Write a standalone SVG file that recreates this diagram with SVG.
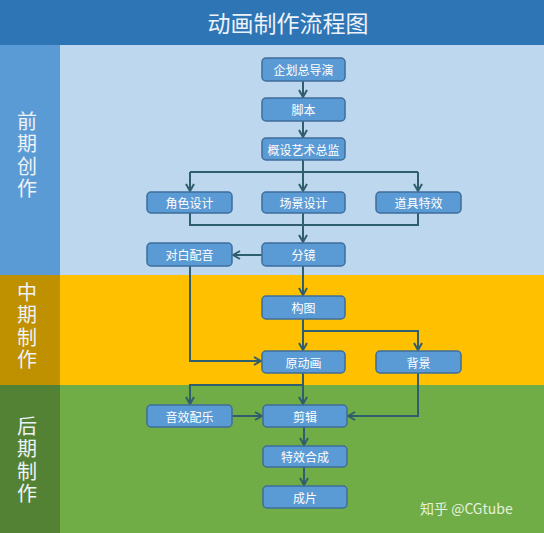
<svg xmlns="http://www.w3.org/2000/svg" width="544" height="533" viewBox="0 0 544 533">
<defs>
<style>
.node rect{fill:#5B9BD5;stroke:#3E6E99;stroke-width:1.5}
.node text{fill:#fff;font-family:"Noto Sans CJK SC","Noto Sans",sans-serif;font-size:12px;text-anchor:middle;dominant-baseline:central}
.lane{fill:#eef3f8;font-family:"Noto Sans CJK SC",sans-serif;font-size:20px;writing-mode:vertical-rl;letter-spacing:2.5px}
.conn{fill:none;stroke:#2F5E6E;stroke-width:2}
</style>
<marker id="ah" viewBox="0 0 10 10" refX="9" refY="5" markerWidth="10" markerHeight="10" orient="auto" markerUnits="userSpaceOnUse">
<path d="M2,1 L9,5 L2,9" fill="none" stroke="#2F5E6E" stroke-width="2"/>
</marker>
</defs>
<rect x="0" y="0" width="544" height="533" fill="#70AD47"/>
<rect x="0" y="0" width="544" height="45" fill="#2E75B6"/>
<rect x="0" y="45" width="60" height="230" fill="#5B9BD5"/>
<rect x="60" y="45" width="484" height="230" fill="#BDD7EE"/>
<rect x="0" y="275" width="60" height="110" fill="#BF9000"/>
<rect x="60" y="275" width="484" height="110" fill="#FFC000"/>
<rect x="0" y="385" width="60" height="148" fill="#548235"/>
<rect x="60" y="385" width="484" height="148" fill="#70AD47"/>
<text x="288" y="32" fill="#eef3fa" font-family="Noto Sans CJK SC,sans-serif" font-size="23" text-anchor="middle">动画制作流程图</text>
<text id="lane1" class="lane" x="27" y="111">前期创作</text>
<text id="lane2" class="lane" x="27" y="282">中期制作</text>
<text id="lane3" class="lane" x="27" y="416">后期制作</text>
<g id="connectors">
<path class="conn" d="M303,81 V97" marker-end="url(#ah)"/>
<path class="conn" d="M303,121 V137" marker-end="url(#ah)"/>
<path class="conn" d="M303,160 V172 M190,172 H418"/>
<path class="conn" d="M190,172 V191" marker-end="url(#ah)"/>
<path class="conn" d="M303,172 V191" marker-end="url(#ah)"/>
<path class="conn" d="M418,172 V191" marker-end="url(#ah)"/>
<path class="conn" d="M190,213 V225 H418 V213 M303,213 V242" marker-end="url(#ah)"/>
<path class="conn" d="M262,255 H233" marker-end="url(#ah)"/>
<path class="conn" d="M303,266 V295" marker-end="url(#ah)"/>
<path class="conn" d="M303,319 V350" marker-end="url(#ah)"/>
<path class="conn" d="M303,331 H418 V350" marker-end="url(#ah)"/>
<path class="conn" d="M190,266 V361 H261" marker-end="url(#ah)"/>
<path class="conn" d="M303,373 V404" marker-end="url(#ah)"/>
<path class="conn" d="M303,385 H190 V404" marker-end="url(#ah)"/>
<path class="conn" d="M418,373 V416 H348" marker-end="url(#ah)"/>
<path class="conn" d="M232,416 H262" marker-end="url(#ah)"/>
<path class="conn" d="M304,427 V445" marker-end="url(#ah)"/>
<path class="conn" d="M304,467 V485" marker-end="url(#ah)"/>
</g>
<g id="n1" class="node"><rect x="262" y="58" width="83" height="23" rx="4"/><text x="303.5" y="69.5">企划总导演</text></g>
<g id="n2" class="node"><rect x="262" y="98" width="83" height="23" rx="4"/><text x="303.5" y="109.5">脚本</text></g>
<g id="n3" class="node"><rect x="262" y="138" width="83" height="22" rx="4"/><text x="303.5" y="149">概设艺术总监</text></g>
<g id="n4" class="node"><rect x="147" y="192" width="85" height="21" rx="4"/><text x="189.5" y="202.5">角色设计</text></g>
<g id="n5" class="node"><rect x="262" y="192" width="83" height="21" rx="4"/><text x="303.5" y="202.5">场景设计</text></g>
<g id="n6" class="node"><rect x="376" y="192" width="85" height="21" rx="4"/><text x="418.5" y="202.5">道具特效</text></g>
<g id="n7" class="node"><rect x="147" y="243" width="85" height="23" rx="4"/><text x="189.5" y="254.5">对白配音</text></g>
<g id="n8" class="node"><rect x="262" y="243" width="83" height="23" rx="4"/><text x="303.5" y="254.5">分镜</text></g>
<g id="n9" class="node"><rect x="262" y="296" width="83" height="23" rx="4"/><text x="303.5" y="307.5">构图</text></g>
<g id="n10" class="node"><rect x="262" y="351" width="83" height="22" rx="4"/><text x="303.5" y="362">原动画</text></g>
<g id="n11" class="node"><rect x="376" y="351" width="85" height="22" rx="4"/><text x="418.5" y="362">背景</text></g>
<g id="n12" class="node"><rect x="147" y="405" width="85" height="22" rx="4"/><text x="189.5" y="416">音效配乐</text></g>
<g id="n13" class="node"><rect x="263" y="405" width="84" height="22" rx="4"/><text x="305" y="416">剪辑</text></g>
<g id="n14" class="node"><rect x="263" y="446" width="84" height="21" rx="4"/><text x="305" y="456.5">特效合成</text></g>
<g id="n15" class="node"><rect x="263" y="486" width="84" height="22" rx="4"/><text x="305" y="497">成片</text></g>
<text x="420" y="514" fill="#e6f0de" font-family="Noto Sans CJK SC,sans-serif" font-size="14">知乎 @CGtube</text>
</svg>
